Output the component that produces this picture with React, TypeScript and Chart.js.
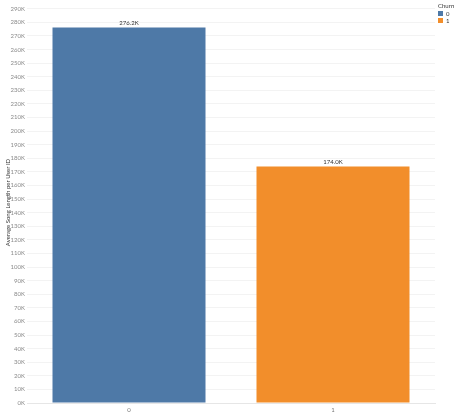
import React, { useEffect, useRef } from "react";
import { Chart, registerables } from "chart.js";

Chart.register(...registerables);

const categories = ["0", "1"];
const avgSongLength = [276200, 174000];
const valueLabels = ["276.2K", "174.0K"];
const barColors = ["#4e79a7", "#f28e2b"];
const yTickValues = [
  0, 10000, 20000, 30000, 40000, 50000, 60000, 70000, 80000, 90000,
  100000, 110000, 120000, 130000, 140000, 150000, 160000, 170000, 180000, 190000,
  200000, 210000, 220000, 230000, 240000, 250000, 260000, 270000, 280000, 290000,
];
const legendTitle = "Churn";
const yAxisTitle = "Average Song Length per User ID";

const FONT = "Lato, 'Open Sans', sans-serif";

const dataLabelPlugin = {
  id: "dataLabels",
  afterDatasetsDraw(chart: any) {
    const ctx = chart.ctx;
    const meta = chart.getDatasetMeta(0);
    ctx.save();
    ctx.font = `6px ${FONT}`;
    ctx.fillStyle = "#333333";
    ctx.textAlign = "center";
    ctx.textBaseline = "bottom";
    meta.data.forEach((bar: any, i: number) => {
      ctx.fillText(valueLabels[i], bar.x, bar.y - 1);
    });
    ctx.restore();
  },
};

export default function App() {
  const ref = useRef<HTMLCanvasElement | null>(null);

  useEffect(() => {
    document.body.style.margin = "0";
    if (!ref.current) return;
    const chart = new Chart(ref.current, {
      type: "bar",
      data: {
        labels: categories,
        datasets: [
          {
            data: avgSongLength,
            backgroundColor: barColors,
            barPercentage: 0.75,
            categoryPercentage: 1,
          },
        ],
      },
      options: {
        animation: false,
        responsive: false,
        devicePixelRatio: 1,
        layout: { padding: { left: 0, right: 39, top: 2, bottom: 0 } },
        plugins: {
          legend: { display: false },
          tooltip: { enabled: false },
        },
        scales: {
          x: {
            grid: { display: false, drawTicks: false },
            border: { display: true, color: "#e6e6e6" },
            ticks: {
              font: { size: 6, family: FONT },
              color: "#777777",
              padding: 3,
            },
            afterFit(scale: any) {
              scale.height = 10;
            },
          },
          y: {
            min: 0,
            max: 295000,
            grid: { color: "#f3f3f3", drawTicks: false },
            border: { display: false },
            ticks: {
              autoSkip: false,
              font: { size: 6, family: FONT },
              color: "#8a8a8a",
              padding: 2,
              callback: (v: any) => `${Math.round(Number(v) / 1000)}K`,
            },
            afterBuildTicks(scale: any) {
              scale.ticks = yTickValues.map((v) => ({ value: v }));
            },
            title: {
              display: true,
              text: yAxisTitle,
              font: { size: 6, family: FONT },
              color: "#333333",
              padding: { top: 4, bottom: 0 },
            },
            afterFit(scale: any) {
              scale.width = 27;
              scale.paddingTop = 0;
              scale.paddingBottom = 0;
            },
          },
        },
      },
      plugins: [dataLabelPlugin],
    });
    return () => chart.destroy();
  }, []);

  return (
    <div style={{ position: "absolute", left: 0, top: 0, width: 474, height: 413, background: "#fff" }}>
      <canvas ref={ref} width={474} height={413} style={{ display: "block" }} />
      <div
        style={{
          position: "absolute",
          left: 438,
          top: 2,
          fontFamily: FONT,
          fontSize: 6,
          color: "#333",
          lineHeight: "7px",
        }}
      >
        <div style={{ marginBottom: 1 }}>{legendTitle}</div>
        {categories.map((c, i) => (
          <div key={c} style={{ display: "flex", alignItems: "center", height: 7 }}>
            <span
              style={{
                display: "inline-block",
                width: 5,
                height: 5,
                background: barColors[i],
                marginRight: 3,
              }}
            />
            <span>{c}</span>
          </div>
        ))}
      </div>
    </div>
  );
}
